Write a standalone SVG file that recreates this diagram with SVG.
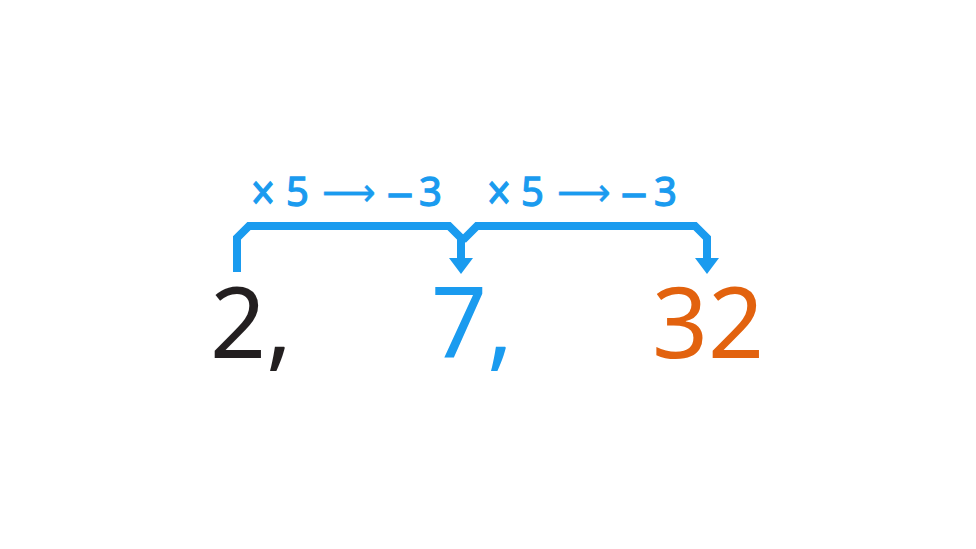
<svg xmlns="http://www.w3.org/2000/svg" width="976" height="549" viewBox="0 0 976 549">
<style>
.num{font-family:"Noto Sans","DejaVu Sans",sans-serif;font-size:98px}
.lab{font-family:"Noto Sans","DejaVu Sans",sans-serif;font-size:40px;font-weight:400;fill:#1a9bef;stroke:#1a9bef;stroke-width:1.3}
.x{font-size:50px}
.arr{stroke-width:0.3}
.br{fill:none;stroke:#1a9bef;stroke-width:8;stroke-linejoin:miter}
.ah{fill:#1a9bef}
</style>
<rect width="976" height="549" fill="#ffffff"/>
<g id="connectors">
<path class="br" d="M237 272 L237 238 L249 226 L449 226 L461 238 L461 260"/>
<polygon class="ah" points="449,258 473,258 461,274"/>
<path class="br" d="M463 240 L477 226 L695 226 L707 238 L707 260"/>
<polygon class="ah" points="695,258 719,258 707,274"/>
</g>
<g id="label1">
<text class="lab x" x="251" y="210" textLength="24" lengthAdjust="spacingAndGlyphs">×</text>
<text class="lab" x="286" y="206">5</text>
<text class="lab arr" x="322" y="206" textLength="54" lengthAdjust="spacingAndGlyphs">⟶</text>
<text class="lab" x="387" y="206" textLength="26" lengthAdjust="spacingAndGlyphs">–</text>
<text class="lab" x="419" y="206">3</text>
</g>
<g id="label2">
<text class="lab x" x="487" y="210" textLength="24" lengthAdjust="spacingAndGlyphs">×</text>
<text class="lab" x="521" y="206">5</text>
<text class="lab arr" x="557" y="206" textLength="54" lengthAdjust="spacingAndGlyphs">⟶</text>
<text class="lab" x="621" y="206" textLength="26" lengthAdjust="spacingAndGlyphs">–</text>
<text class="lab" x="654" y="206">3</text>
</g>
<g id="node-2"><text class="num" x="210" y="358" fill="#231f20">2,</text></g>
<g id="node-7"><text class="num" x="431" y="358" fill="#1a9bef">7,</text></g>
<g id="node-32"><text class="num" x="652" y="358" fill="#e2620e">32</text></g>
</svg>
